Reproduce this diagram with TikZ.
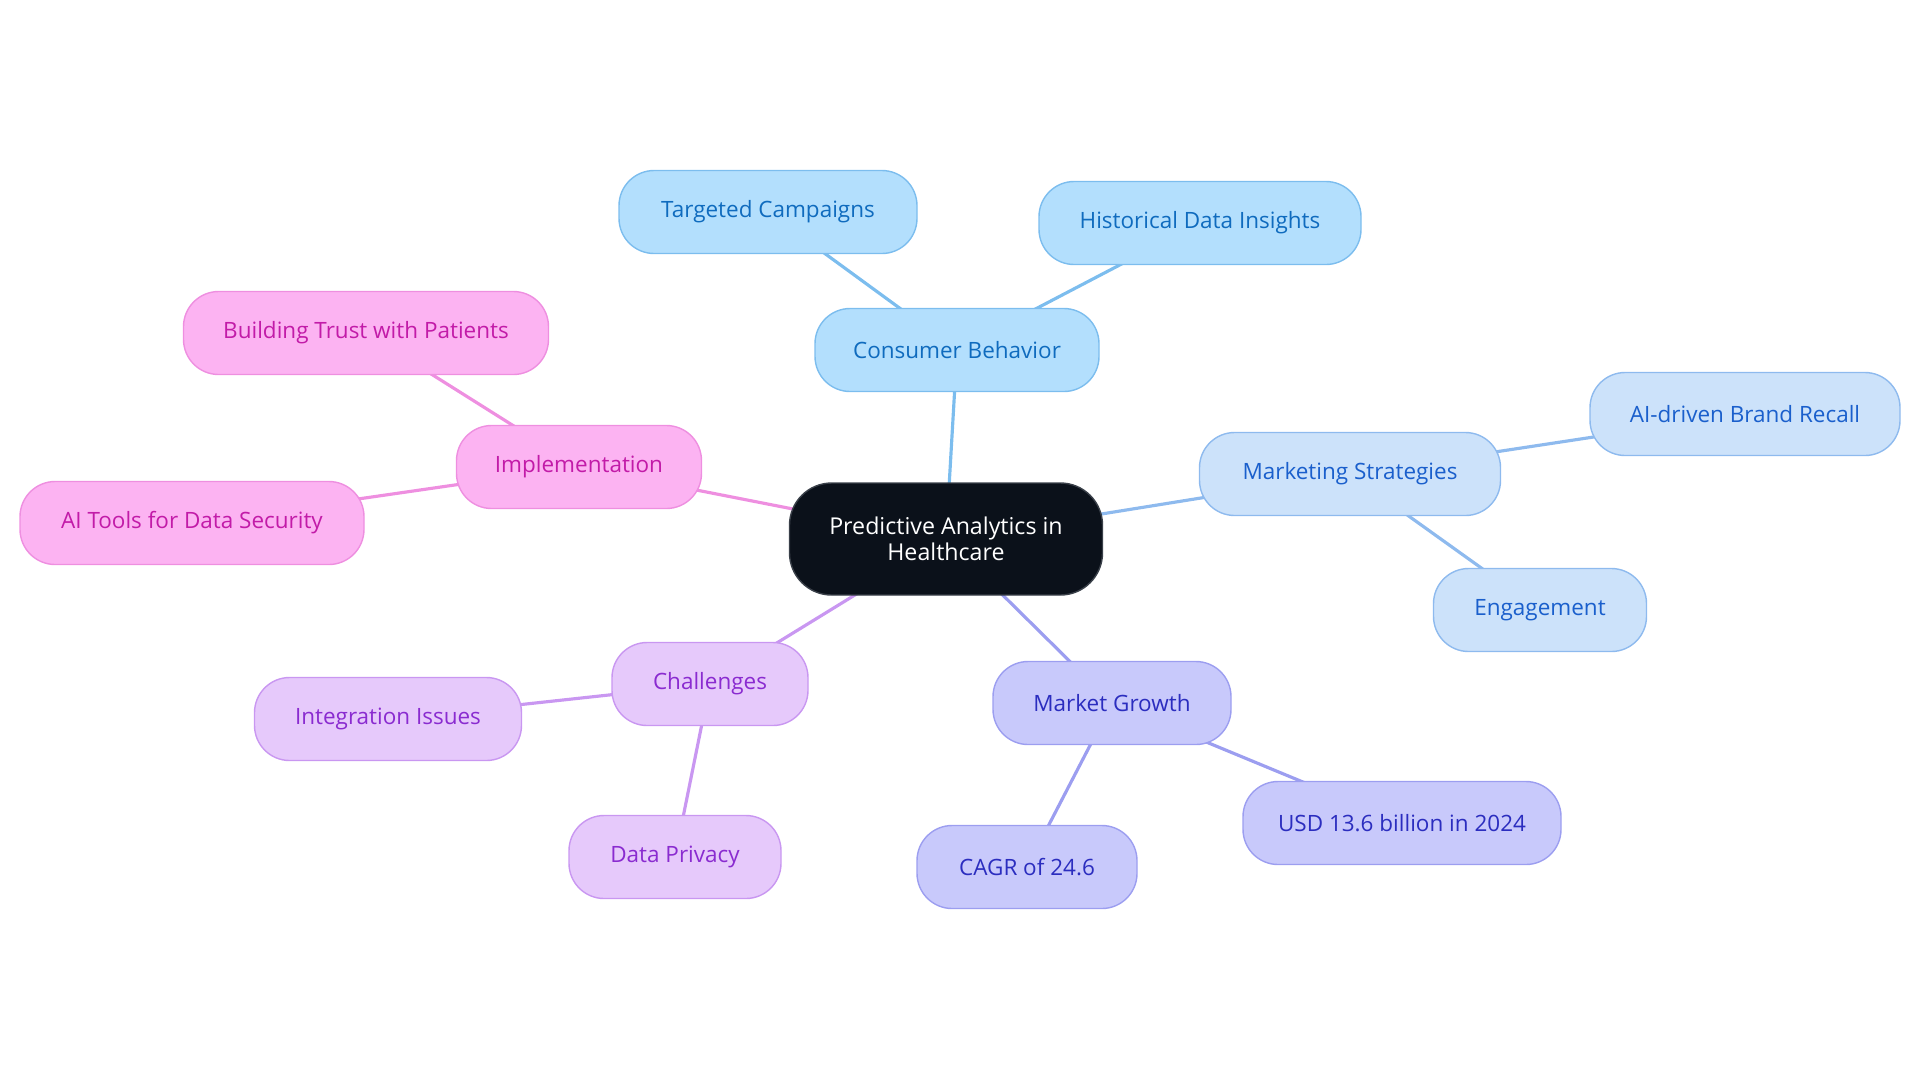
\documentclass[tikz,border=0pt]{standalone}
\usepackage{fontspec}
\setmainfont{Open Sans}
\usetikzlibrary{backgrounds}
\definecolor{rootbg}{HTML}{0B111A}
\definecolor{rootln}{HTML}{3A4049}
\definecolor{cbfill}{HTML}{B3DFFD}
\definecolor{cbline}{HTML}{7CBDEE}
\definecolor{cbtext}{HTML}{0F6BBE}
\definecolor{msfill}{HTML}{CCE2FA}
\definecolor{msline}{HTML}{8EBAEE}
\definecolor{mstext}{HTML}{1A5FCC}
\definecolor{mgfill}{HTML}{C8C9FB}
\definecolor{mgline}{HTML}{9C9EF0}
\definecolor{mgtext}{HTML}{2B2DBF}
\definecolor{chfill}{HTML}{E6C9FB}
\definecolor{chline}{HTML}{C997F1}
\definecolor{chtext}{HTML}{8A2BD0}
\definecolor{imfill}{HTML}{FCB3F2}
\definecolor{imline}{HTML}{EE8FE0}
\definecolor{imtext}{HTML}{C21BA8}

\begin{document}
\begin{tikzpicture}[x=0.02cm, y=-0.02cm,
    box/.style={rounded corners=20pt, minimum height=83*0.02cm, inner xsep=0pt,
      font=\fontsize{12.8}{14}\selectfont, line width=0.8pt},
    rootnode/.style={box, fill=rootbg, draw=rootln, text=white, align=center,
      minimum height=112*0.02cm, minimum width=313*0.02cm, rounded corners=24pt,
      font=\fontsize{13.2}{14.5}\selectfont},
    cb/.style={box, fill=cbfill, draw=cbline, text=cbtext},
    ms/.style={box, fill=msfill, draw=msline, text=mstext},
    mg/.style={box, fill=mgfill, draw=mgline, text=mgtext},
    ch/.style={box, fill=chfill, draw=chline, text=chtext},
    im/.style={box, fill=imfill, draw=imline, text=imtext},
    link/.style={line width=1.8pt}]
  \useasboundingbox (0,0) rectangle (1920,1083);

  \node[rootnode] (root) at (946,539) {Predictive Analytics in\\Healthcare};

  % consumer behavior
  \node[cb, minimum width=284*0.02cm] (consumer) at (957,350) {Consumer Behavior};
  \node[cb, minimum width=298*0.02cm] (targeted) at (768,212) {Targeted Campaigns};
  \node[cb, minimum width=322*0.02cm] (historical) at (1200,223) {Historical Data Insights};

  % marketing
  \node[ms, minimum width=301*0.02cm] (marketing) at (1350,474) {Marketing Strategies};
  \node[ms, minimum width=310*0.02cm] (recall) at (1745,414) {AI-driven Brand Recall};
  \node[ms, minimum width=213*0.02cm] (engagement) at (1540,610) {Engagement};

  % market growth
  \node[mg, minimum width=238*0.02cm] (growth) at (1112,703) {Market Growth};
  \node[mg, minimum width=318*0.02cm] (usd) at (1402,823) {USD 13.6 billion in 2024};
  \node[mg, minimum width=220*0.02cm] (cagr) at (1027,867) {CAGR of 24.6};

  % challenges
  \node[ch, minimum width=196*0.02cm] (challenges) at (710,684) {Challenges};
  \node[ch, minimum width=267*0.02cm] (integration) at (388,719) {Integration Issues};
  \node[ch, minimum width=212*0.02cm] (privacy) at (675,857) {Data Privacy};

  % implementation
  \node[im, minimum width=245*0.02cm] (implementation) at (579,467) {Implementation};
  \node[im, minimum width=365*0.02cm] (trust) at (366,333) {Building Trust with Patients};
  \node[im, minimum width=344*0.02cm] (security) at (192,523) {AI Tools for Data Security};

  \begin{scope}[on background layer]
    \draw[link, cbline] (root.center) -- (consumer.center);
    \draw[link, cbline] (consumer.center) -- (targeted.center);
    \draw[link, cbline] (consumer.center) -- (historical.center);
    \draw[link, msline] (root.center) -- (marketing.center);
    \draw[link, msline] (marketing.center) -- (recall.center);
    \draw[link, msline] (marketing.center) -- (engagement.center);
    \draw[link, mgline] (root.center) -- (growth.center);
    \draw[link, mgline] (growth.center) -- (usd.center);
    \draw[link, mgline] (growth.center) -- (cagr.center);
    \draw[link, chline] (root.center) -- (challenges.center);
    \draw[link, chline] (challenges.center) -- (integration.center);
    \draw[link, chline] (challenges.center) -- (privacy.center);
    \draw[link, imline] (root.center) -- (implementation.center);
    \draw[link, imline] (implementation.center) -- (trust.center);
    \draw[link, imline] (implementation.center) -- (security.center);
  \end{scope}
\end{tikzpicture}
\end{document}
